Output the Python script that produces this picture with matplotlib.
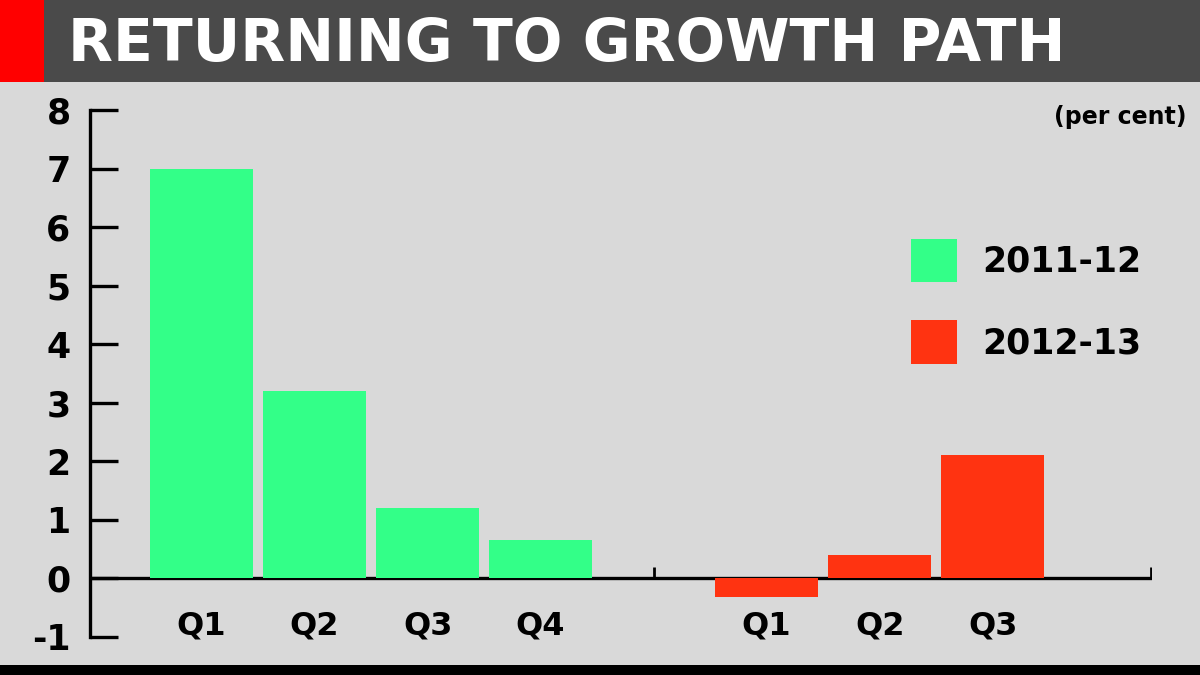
import matplotlib.pyplot as plt
from matplotlib.patches import Rectangle

# -----------------------------
# Data (per cent growth)
# -----------------------------
quarters_1 = ["Q1", "Q2", "Q3", "Q4"]
growth_2011_12 = [7.0, 3.2, 1.2, 0.65]

quarters_2 = ["Q1", "Q2", "Q3"]
growth_2012_13 = [-0.32, 0.4, 2.1]

pos_1 = [0, 1, 2, 3]
pos_2 = [5, 6, 7]

yticks = [-1, 0, 1, 2, 3, 4, 5, 6, 7, 8]
ytick_labels = ["-1", "0", "1", "2", "3", "4", "5", "6", "7", "8"]

green = "#33ff88"
red = "#ff3311"
bg = "#d9d9d9"

# -----------------------------
# Figure + header
# -----------------------------
fig = plt.figure(figsize=(12, 6.75), dpi=100)
fig.patch.set_facecolor(bg)

fig.patches.append(Rectangle((0, 1 - 82 / 675), 1, 82 / 675, transform=fig.transFigure,
                             facecolor="#4a4a4a", edgecolor="none", zorder=0))
fig.patches.append(Rectangle((0, 1 - 82 / 675), 44 / 1200, 82 / 675, transform=fig.transFigure,
                             facecolor="#ff0000", edgecolor="none", zorder=1))
fig.patches.append(Rectangle((0, 0), 1, 10 / 675, transform=fig.transFigure,
                             facecolor="#000000", edgecolor="none", zorder=0))

fig.text(68 / 1200, 1 - 44 / 675, "RETURNING TO GROWTH PATH", color="white",
         fontsize=42, fontweight="heavy", ha="left", va="center")

# -----------------------------
# Chart
# -----------------------------
ax = fig.add_axes([90 / 1200, 1 - 637 / 675, 1062 / 1200, 527 / 675])
ax.set_facecolor(bg)

ax.bar(pos_1, growth_2011_12, width=0.91, color=green, zorder=3, label="2011-12")
ax.bar(pos_2, growth_2012_13, width=0.91, color=red, zorder=3, label="2012-13")

ax.set_xlim(-0.987, 8.41)
ax.set_ylim(-1, 8)

# zero line with the two small end ticks
ax.axhline(0, color="black", lw=2.4, zorder=2)
ax.vlines([4, 8.4], 0, 0.2, color="black", lw=2.0, zorder=2)

for s in ["top", "right", "bottom"]:
    ax.spines[s].set_visible(False)
ax.spines["left"].set_linewidth(2.4)

ax.set_xticks([])
ax.set_yticks(yticks, ytick_labels)
ax.tick_params(axis="y", direction="in", length=20, width=2.4, pad=14,
               labelsize=25)
for lbl in ax.get_yticklabels():
    lbl.set_fontweight("bold")

for x, q in zip(pos_1 + pos_2, quarters_1 + quarters_2):
    ax.text(x, -0.82, q, ha="center", va="center", fontsize=23, fontweight="bold")

leg = ax.legend(loc="upper left", bbox_to_anchor=(0.744, 0.815), frameon=False,
                fontsize=25, handlelength=1.3, handleheight=1.55, labelspacing=1.1,
                handletextpad=0.75, borderpad=0.4)
for t in leg.get_texts():
    t.set_fontweight("bold")

fig.text(1187 / 1200, 1 - 117 / 675, "(per cent)", ha="right", va="center",
         fontsize=17, fontweight="bold")

plt.savefig("out.png", dpi=100, facecolor=fig.get_facecolor())
